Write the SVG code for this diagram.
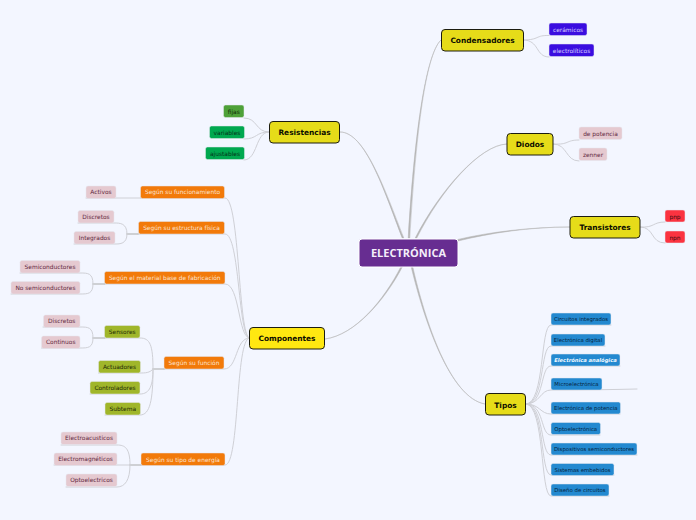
<svg xmlns="http://www.w3.org/2000/svg" width="696" height="520" viewBox="0 0 696 520">
<style>
text{font-family:"DejaVu Sans",Verdana,sans-serif;text-anchor:middle;font-size:5.900px;transform:translateY(-.3px)}
.c{fill:none;stroke-linecap:round}
.m{fill:#b6b6b6;stroke:#b6b6b6;stroke-width:.5}
.s{stroke:#cfd0d6;stroke-width:1}
.t{stroke:#c2c3c6;stroke-width:1.600}
rect{stroke:#e4e6ee;stroke-width:.5}
.y rect{fill:#e6dc19;stroke:#1c1c10;stroke-width:1}
.y text{font-size:7.400px;font-weight:bold;fill:#0c0c00}
.p rect{fill:#e5c9d0}.p text{fill:#62283e}
.o rect{fill:#f27a0a}.o text{fill:#fbe3d0}
.b rect{fill:#2389d0}.b text{fill:#052440;font-size:5.400px}
.g rect{fill:#a0b62a}.g text{fill:#222a06}
.v rect{fill:#3a0de0}.v text{fill:#d9d0ff}
.r rect{fill:#fb3340}.r text{fill:#3a0a0e}
</style>
<rect width="696" height="520" fill="#f3f6ff" style="stroke:none"/>
<g id="connectors">
<path class="m" d="M408.200 238C414 140 425 55 441 40C425 55 415.500 140 409.800 238Z"/>
<path class="m" d="M415.200 238C440 190 480 145 507 144C480 145 441 190 416.800 238Z"/>
<path class="m" d="M458 239.400C490 232 530 227 570 227C530 227 490 233 458 241Z"/>
<path class="m" d="M403.800 238C385 190 365 132 340 132C365 132 384 190 402.200 238Z"/>
<path class="m" d="M402.300 267C385 300 355 335 325 339C355 335 384 300 400.700 267Z"/>
<path class="m" d="M412.800 267C425 320 450 398 485 404C450 398 424 320 411.200 267Z"/>
<path class="c s" d="M523 40C540 40 535 35 549 35.500"/>
<path class="c s" d="M523 40C540 40 535 57 549 57"/>
<path class="c s" d="M553 144C570 145 565 140 579 140"/>
<path class="c s" d="M553 144C568 144 565 161 579 161"/>
<path class="c s" d="M640 227C655 228 652 222 665 222"/>
<path class="c s" d="M640 227C655 227 650 243 665 243"/>
<path class="c s" d="M269 132C255 132 258 118 244 118"/>
<path class="c s" d="M269 132C255 132 258 139 244 139"/>
<path class="c s" d="M269 132C255 132 258 160 244 160"/>
<path class="c s" d="M526 404C545 404 540 325 551 325H611"/>
<path class="c s" d="M526 404C545 404 540 346 551 346H605"/>
<path class="c s" d="M526 404C545 404 540 366 551 366H620"/>
<path class="c s" d="M526 404C540 404 540 390 551 390Q600 390 637 389"/>
<path class="c s" d="M526 404C540 404 540 414 551 414H620"/>
<path class="c s" d="M526 404C545 404 540 435 551 435H600"/>
<path class="c s" d="M526 404C545 404 540 455 551 455H637"/>
<path class="c s" d="M526 404C545 404 540 475 551 475H614"/>
<path class="c s" d="M526 404C545 404 540 496 551 496H609"/>
<path class="c s" d="M249.500 338C238 338 240 198 225 198H140.500"/>
<path class="c s" d="M249.500 338C238 338 240 234 225 234H138"/>
<path class="c s" d="M249.500 338C238 338 240 284 225 284H104.500"/>
<path class="c s" d="M249.500 338C235 338 238 369 224 369H164"/>
<path class="c s" d="M249.500 338C235 338 240 465 225 465H141"/>
<path class="c s" d="M140.500 198H86"/>
<path class="c t" d="M138 234H127"/>
<path class="c s" d="M127 234C127 223 120 223 114 223H78M127 234C127 244 120 244 115 244H74"/>
<path class="c t" d="M104.500 284H93"/>
<path class="c s" d="M93 284C93 273 88 273 80 273H20M93 284C93 294 88 294 80 294H11"/>
<path class="c t" d="M164 369H153"/>
<path class="c s" d="M153 369C153 345 150 338 140 338H104.500M153 369C150 373 145 373 140 373H98.500M153 369C153 385 150 394 140 394H90M153 369C153 400 150 415 140 415H105"/>
<path class="c t" d="M104.500 338H93"/>
<path class="c s" d="M93 338C93 327 88 327 80 327H43M93 338C93 348 88 348 80 348H41.500"/>
<path class="c t" d="M141 465H130"/>
<path class="c s" d="M130 465H54M130 465C130 448 125 445 117 445H61M130 465C130 480 125 487 117 487H66"/>
</g>
<g id="electronica"><rect x="359" y="239" width="99" height="28" rx="3" style="fill:#672d91;stroke:#fff;stroke-width:1"/><text x="408.500" y="257" style="font-family:'Open Sans',sans-serif;font-size:11px;font-weight:bold" fill="#f4eefa">ELECTRÓNICA</text></g>
<g id="condensadores" class="y"><rect x="441.500" y="29.500" width="82" height="21.500" rx="3.500"/><text x="482.500" y="43">Condensadores</text></g>
<g id="diodos" class="y"><rect x="507" y="133.500" width="46" height="21.500" rx="3.500"/><text x="530" y="147">Diodos</text></g>
<g id="transistores" class="y"><rect x="570" y="216.500" width="70" height="21.500" rx="3.500"/><text x="605" y="230">Transistores</text></g>
<g id="tipos" class="y"><rect x="485.500" y="393.500" width="40" height="21.500" rx="3.500"/><text x="505.500" y="408">Tipos</text></g>
<g id="resistencias" class="y"><rect x="269.500" y="121.500" width="70" height="21.500" rx="3.500"/><text x="304.500" y="135">Resistencias</text></g>
<g id="componentes" class="y"><rect x="249.500" y="327.500" width="75" height="21.500" rx="3.500" style="fill:#ffe811"/><text x="287" y="341">Componentes</text></g>
<g id="ceramicos" class="v"><rect x="549" y="23" width="38" height="12.500" rx="2"/><text x="568" y="32">cerámicos</text></g>
<g id="electroliticos" class="v"><rect x="549" y="44" width="45" height="12.500" rx="2"/><text x="571.500" y="53">electrolíticos</text></g>
<g id="de-potencia" class="p"><rect x="579" y="127" width="43" height="12.500" rx="2"/><text x="600.500" y="136">de potencia</text></g>
<g id="zenner" class="p"><rect x="579" y="148" width="28" height="12.500" rx="2"/><text x="593" y="157">zenner</text></g>
<g id="pnp" class="r"><rect x="665" y="210" width="20" height="12" rx="2"/><text x="675" y="219">pnp</text></g>
<g id="npn" class="r"><rect x="665" y="231" width="20" height="12" rx="2"/><text x="675" y="240">npn</text></g>
<g id="fijas"><rect x="223.500" y="105" width="20.500" height="12.500" rx="2" fill="#4ea138"/><text x="233.750" y="114" fill="#0c2a08">fijas</text></g>
<g id="variables"><rect x="209.500" y="126" width="35" height="12.500" rx="2" fill="#00a84f"/><text x="227" y="135" fill="#04301a">variables</text></g>
<g id="ajustables"><rect x="205.500" y="147" width="39" height="12.500" rx="2" fill="#00a84f"/><text x="225" y="156" fill="#04301a">ajustables</text></g>
<g id="tipo-1" class="b"><rect x="551" y="313" width="60" height="12" rx="2"/><text x="581" y="321.500">Circuitos integrados</text></g>
<g id="tipo-2" class="b"><rect x="551" y="334" width="54" height="12" rx="2"/><text x="578" y="342.500">Electrónica digital</text></g>
<g id="tipo-3" class="b"><rect x="551" y="354" width="69" height="12" rx="2"/><text x="585.500" y="362.500" style="fill:#f0f8ff;font-size:5.200px;font-weight:bold;font-style:italic">Electrónica analógica</text></g>
<g id="tipo-4" class="b"><rect x="551" y="378" width="51" height="12" rx="2"/><text x="576.500" y="386.500">Microelectrónica</text></g>
<g id="tipo-5" class="b"><rect x="551" y="402" width="69.500" height="12" rx="2"/><text x="585.750" y="410.500">Electrónica de potencia</text></g>
<g id="tipo-6" class="b"><rect x="551" y="422.500" width="49.500" height="12" rx="2"/><text x="575.750" y="431">Optoelectrónica</text></g>
<g id="tipo-7" class="b"><rect x="551" y="443" width="86" height="12" rx="2"/><text x="594" y="451.500">Dispositivos semiconductores</text></g>
<g id="tipo-8" class="b"><rect x="551" y="463.500" width="63" height="12" rx="2"/><text x="582.500" y="472">Sistemas embebidos</text></g>
<g id="tipo-9" class="b"><rect x="551" y="484" width="58" height="12" rx="2"/><text x="580" y="492.500">Diseño de circuitos</text></g>
<g id="funcionamiento" class="o"><rect x="140.500" y="186" width="84" height="12.500" rx="2"/><text x="182.500" y="194.500">Según su funcionamiento</text></g>
<g id="estructura" class="o"><rect x="138.500" y="221.500" width="86" height="12.500" rx="2"/><text x="181.500" y="230.500">Según su estructura física</text></g>
<g id="material" class="o"><rect x="104.500" y="271.500" width="120.500" height="12.500" rx="2"/><text x="164.750" y="280.500">Según el material base de fabricación</text></g>
<g id="funcion" class="o"><rect x="164" y="356.500" width="60" height="12.500" rx="2"/><text x="194" y="365.500">Según su función</text></g>
<g id="energia" class="o"><rect x="141" y="453" width="84" height="12.500" rx="2"/><text x="183" y="462">Según su tipo de energía</text></g>
<g id="activos" class="p"><rect x="86" y="186" width="30" height="12.500" rx="2"/><text x="101" y="194.500">Activos</text></g>
<g id="discretos-1" class="p"><rect x="78" y="210.500" width="36" height="12.500" rx="2"/><text x="96" y="219.500">Discretos</text></g>
<g id="integrados" class="p"><rect x="74" y="231.500" width="41" height="12.500" rx="2"/><text x="94.500" y="240.500">Integrados</text></g>
<g id="semiconductores" class="p"><rect x="20" y="260.500" width="60" height="12.500" rx="2"/><text x="50" y="269.500">Semiconductores</text></g>
<g id="no-semiconductores" class="p"><rect x="11" y="281.500" width="69" height="12.500" rx="2"/><text x="45.500" y="290.500">No semiconductores</text></g>
<g id="discretos-2" class="p"><rect x="43.500" y="315" width="36.500" height="12.500" rx="2"/><text x="61.750" y="323.500">Discretos</text></g>
<g id="continuos" class="p"><rect x="41.500" y="336" width="38.500" height="12.500" rx="2"/><text x="60.750" y="344.500">Continuos</text></g>
<g id="sensores" class="g"><rect x="104.500" y="325.500" width="35.500" height="12.500" rx="2"/><text x="122.250" y="334">Sensores</text></g>
<g id="actuadores" class="g"><rect x="98.500" y="360.500" width="42" height="12.500" rx="2"/><text x="119.500" y="369.500">Actuadores</text></g>
<g id="controladores" class="g"><rect x="90" y="381.500" width="50" height="12.500" rx="2"/><text x="115" y="390.500">Controladores</text></g>
<g id="subtema" class="g"><rect x="105" y="402.500" width="35.500" height="12.500" rx="2"/><text x="122.750" y="411.500">Subtema</text></g>
<g id="electroacusticos" class="p"><rect x="61" y="432" width="56" height="12.500" rx="2"/><text x="89" y="440.500">Electroacusticos</text></g>
<g id="electromagneticos" class="p"><rect x="54" y="453" width="63" height="12.500" rx="2"/><text x="85.500" y="461.500">Electromagnéticos</text></g>
<g id="optoelectricos" class="p"><rect x="66" y="474" width="51" height="12.500" rx="2"/><text x="91.500" y="482.500">Optoelectricos</text></g>
</svg>
